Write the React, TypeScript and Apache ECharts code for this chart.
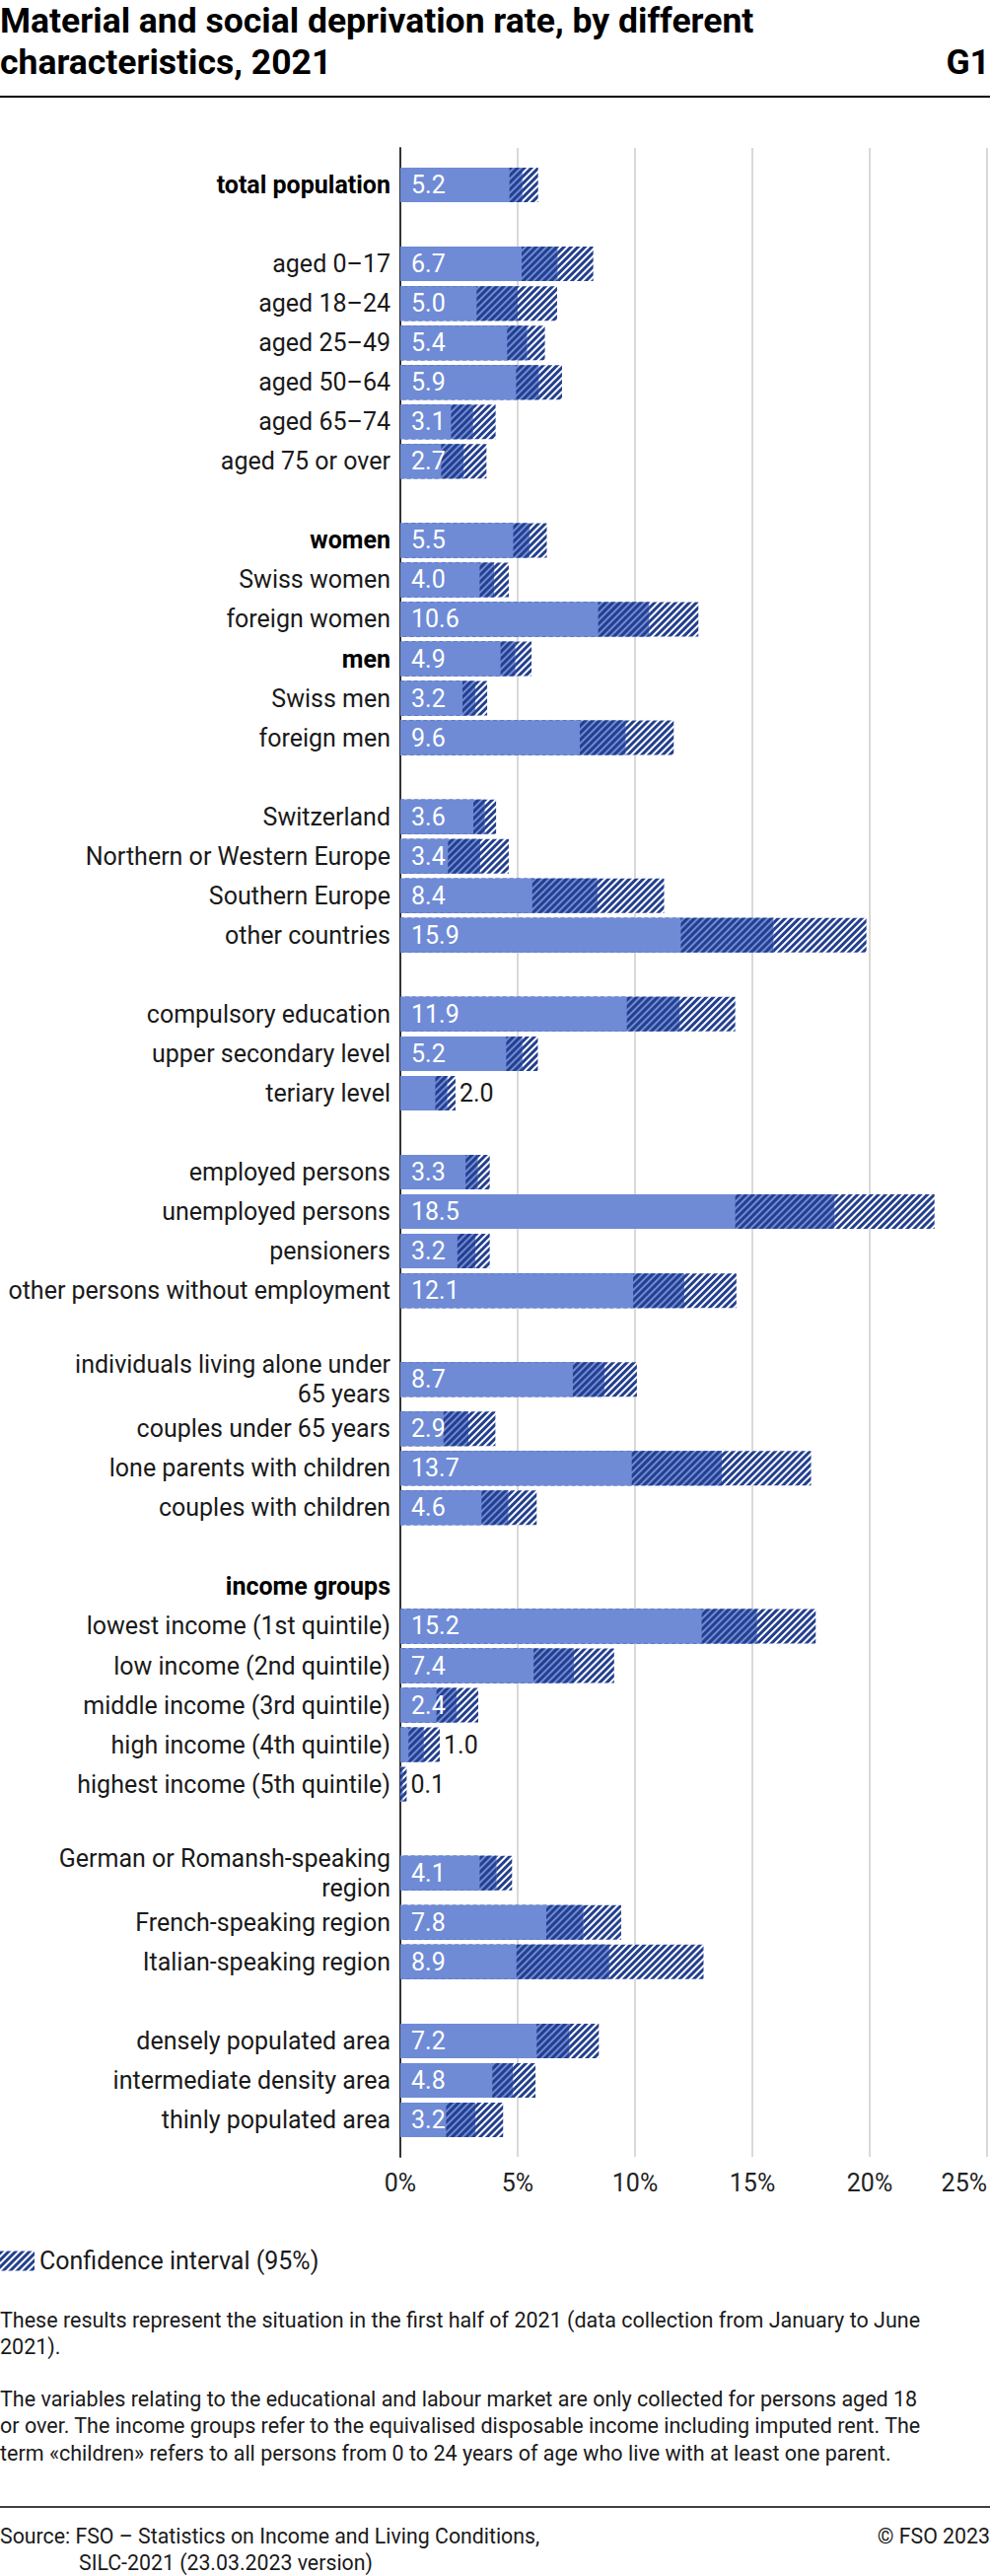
import React, { useEffect, useRef } from "react";
import * as echarts from "echarts";

const categories: string[] = [
  "total population",
  "aged 0–17", "aged 18–24", "aged 25–49", "aged 50–64", "aged 65–74", "aged 75 or over",
  "women", "Swiss women", "foreign women", "men", "Swiss men", "foreign men",
  "Switzerland", "Northern or Western Europe", "Southern Europe", "other countries",
  "compulsory education", "upper secondary level", "teriary level",
  "employed persons", "unemployed persons", "pensioners", "other persons without employment",
  "individuals living alone under\n65 years", "couples under 65 years", "lone parents with children", "couples with children",
  "income groups", "lowest income (1st quintile)", "low income (2nd quintile)", "middle income (3rd quintile)",
  "high income (4th quintile)", "highest income (5th quintile)",
  "German or Romansh-speaking\nregion", "French-speaking region", "Italian-speaking region",
  "densely populated area", "intermediate density area", "thinly populated area",
];

const values: (number | null)[] = [
  5.2,
  6.7, 5.0, 5.4, 5.9, 3.1, 2.7,
  5.5, 4.0, 10.6, 4.9, 3.2, 9.6,
  3.6, 3.4, 8.4, 15.9,
  11.9, 5.2, 2.0,
  3.3, 18.5, 3.2, 12.1,
  8.7, 2.9, 13.7, 4.6,
  null, 15.2, 7.4, 2.4, 1.0, 0.1,
  4.1, 7.8, 8.9,
  7.2, 4.8, 3.2,
];

const ciLow: (number | null)[] = [
  4.65,
  5.17, 3.25, 4.55, 4.93, 2.16, 1.74,
  4.81, 3.38, 8.43, 4.27, 2.65, 7.65,
  3.11, 2.03, 5.62, 11.95,
  9.65, 4.51, 1.49,
  2.78, 14.27, 2.43, 9.92,
  7.35, 1.84, 9.86, 3.46,
  null, 12.84, 5.68, 1.54, 0.35, 0.0,
  3.38, 6.22, 4.95,
  5.81, 3.92, 1.95,
];

const ciHigh: (number | null)[] = [
  5.87,
  8.22, 6.68, 6.16, 6.89, 4.06, 3.67,
  6.24, 4.62, 12.7, 5.59, 3.7, 11.65,
  4.08, 4.62, 11.24, 19.86,
  14.27, 5.86, 2.35,
  3.81, 22.76, 3.81, 14.32,
  10.08, 4.05, 17.5, 5.81,
  null, 17.7, 9.11, 3.32, 1.68, 0.27,
  4.76, 9.41, 12.92,
  8.46, 5.76, 4.38,
];

const boldRows: string[] = ["total population", "women", "men", "income groups"];

const groupStarts: string[] = [
  "aged 0–17", "women", "Switzerland", "compulsory education", "employed persons",
  "individuals living alone under\n65 years", "income groups",
  "German or Romansh-speaking\nregion", "densely populated area",
];

const xTicks = { min: 0, max: 25, interval: 5 };

const titleLines: string[] = [
  "Material and social deprivation rate, by different",
  "characteristics, 2021",
];
const chartNumber = "G1";
const legendName = "Confidence interval (95%)";
const note1: string[] = [
  "These results represent the situation in the first half of 2021 (data collection from January to June",
  "2021).",
];
const note2: string[] = [
  "The variables relating to the educational and labour market are only collected for persons aged 18",
  "or over. The income groups refer to the equivalised disposable income including imputed rent. The",
  "term «children» refers to all persons from 0 to 24 years of age who live with at least one parent.",
];
const sourceLines: string[] = [
  "Source: FSO – Statistics on Income and Living Conditions,",
  "SILC-2021 (23.03.2023 version)",
];
const copyright = "© FSO 2023";

const BLUE = "#6f8bd6";
const NAVY = "#233f8e";
const FONT = "Roboto, 'Noto Sans', sans-serif";

// Layout in eighth-of-a-row units on the category axis
const PAD = 7;
const positions: number[] = [];
(() => {
  let pos = 0;
  categories.forEach((c, i) => {
    if (i > 0) {
      pos += 8;
      if (groupStarts.includes(c)) pos += 8;
      if (c.includes("\n")) pos += 2;
      if (categories[i - 1].includes("\n")) pos += 2;
    }
    positions.push(pos + PAD);
  });
})();
const bandCount = positions[positions.length - 1] + 1 + PAD;
const rowOfBand: number[] = new Array(bandCount).fill(-1);
positions.forEach((p, i) => (rowOfBand[p] = i));
const bandLabels: string[] = [];
for (let b = 0; b < bandCount; b++) {
  bandLabels.push(rowOfBand[b] >= 0 ? categories[rowOfBand[b]] : "~" + b);
}

const INSIDE_MIN = 2.2;

function buildSeriesData(arr: (number | null)[], labelMode: "inside" | "outside" | "none") {
  const out: any[] = new Array(bandCount).fill(null);
  positions.forEach((p, i) => {
    const v = arr[i];
    if (v == null || values[i] == null) return;
    const inside = (values[i] as number) >= INSIDE_MIN;
    let show = false;
    if (labelMode === "inside") show = inside;
    if (labelMode === "outside") show = !inside;
    out[p] = { value: v, label: { show } };
  });
  return out;
}

const labelText = (params: any) => {
  const r = rowOfBand[params.dataIndex];
  const v = r >= 0 ? values[r] : null;
  return v == null ? "" : v.toFixed(1);
};

const hatch = {
  symbol: "rect",
  symbolSize: 1,
  color: NAVY,
  dashArrayX: [1, 0],
  dashArrayY: [3, 2],
  rotation: -Math.PI / 4,
};

function textEl(text: string, x: number, y: number, size: number, opts: any = {}) {
  return {
    type: "text",
    x,
    y,
    silent: true,
    style: {
      text,
      fontFamily: FONT,
      fontSize: size,
      fontWeight: opts.bold ? "bold" : "normal",
      fill: opts.color || "#1a1a1a",
      align: opts.align || "left",
      verticalAlign: "middle",
    },
  };
}

export default function App() {
  const ref = useRef<HTMLDivElement>(null);

  useEffect(() => {
    document.body.style.margin = "0";
    if (!ref.current) return;
    const chart = echarts.init(ref.current, null, { renderer: "svg" });

    const graphic: any[] = [
      textEl(titleLines[0], 0, 21, 35.5, { bold: true, color: "#000" }),
      textEl(titleLines[1], 0, 63, 35.5, { bold: true, color: "#000" }),
      textEl(chartNumber, 1004, 63, 35.5, { bold: true, color: "#000", align: "right" }),
      { type: "line", silent: true, shape: { x1: 0, y1: 98, x2: 1004, y2: 98 }, style: { stroke: "#000", lineWidth: 2 } },
      textEl(note1[0], 0, 2352, 21.5),
      textEl(note1[1], 0, 2379, 21.5),
      textEl(note2[0], 0, 2432, 21.5),
      textEl(note2[1], 0, 2459, 21.5),
      textEl(note2[2], 0, 2487, 21.5),
      { type: "line", silent: true, shape: { x1: 0, y1: 2542, x2: 1004, y2: 2542 }, style: { stroke: "#000", lineWidth: 1.5 } },
      textEl(sourceLines[0], 0, 2571, 21.3),
      textEl(sourceLines[1], 80, 2598, 21.3),
      textEl(copyright, 1004, 2571, 21.3, { align: "right" }),
    ];

    const option: any = {
      animation: false,
      textStyle: { fontFamily: FONT },
      grid: { left: 406, right: 3, top: 150, height: 2037, containLabel: false },
      legend: {
        left: 0,
        top: 2280,
        padding: 0,
        icon: "rect",
        itemWidth: 35,
        itemHeight: 20,
        selectedMode: false,
        data: [legendName],
        textStyle: { fontSize: 25, color: "#1a1a1a", fontFamily: FONT, padding: [0, 0, 0, 0] },
      },
      xAxis: {
        type: "value",
        min: xTicks.min,
        max: xTicks.max,
        interval: xTicks.interval,
        axisLine: { show: false },
        axisTick: { show: false },
        splitLine: { show: true, lineStyle: { color: "#cccccc", width: 1.5 } },
        axisLabel: {
          formatter: "{value}%",
          fontSize: 25,
          color: "#222",
          margin: 14,
          alignMaxLabel: "right",
          fontFamily: FONT,
        },
      },
      yAxis: {
        type: "category",
        inverse: true,
        data: bandLabels,
        axisLine: { show: true, lineStyle: { color: "#333", width: 2 } },
        axisTick: { show: false },
        splitLine: { show: false },
        axisLabel: {
          interval: 0,
          fontSize: 25,
          lineHeight: 30,
          color: "#1a1a1a",
          margin: 10,
          fontFamily: FONT,
          formatter: (v: string) => {
            if (v.startsWith("~")) return "";
            if (boldRows.includes(v)) return "{b|" + v + "}";
            return v;
          },
          rich: { b: { fontWeight: "bold", fontSize: 25, color: "#000", fontFamily: FONT } },
        },
      },
      series: [
        {
          name: legendName,
          type: "bar",
          barWidth: 35,
          barGap: "-100%",
          data: buildSeriesData(ciHigh, "outside"),
          itemStyle: { color: "#ffffff", decal: hatch },
          label: {
            position: "right",
            distance: 4,
            color: "#1a1a1a",
            fontSize: 25,
            fontFamily: FONT,
            formatter: labelText,
          },
        },
        {
          name: "ci-lower",
          type: "bar",
          barWidth: 35,
          barGap: "-100%",
          data: buildSeriesData(values, "none"),
          itemStyle: { color: BLUE, decal: hatch },
        },
        {
          name: "base",
          type: "bar",
          barWidth: 35,
          barGap: "-100%",
          data: buildSeriesData(ciLow, "inside"),
          itemStyle: { color: BLUE },
          label: {
            position: "insideLeft",
            distance: 11,
            color: "#ffffff",
            fontSize: 25,
            fontFamily: FONT,
            formatter: labelText,
          },
        },
      ],
      graphic,
    };

    chart.setOption(option);
    return () => chart.dispose();
  }, []);

  return <div ref={ref} style={{ width: 1004, height: 2612 }} />;
}
